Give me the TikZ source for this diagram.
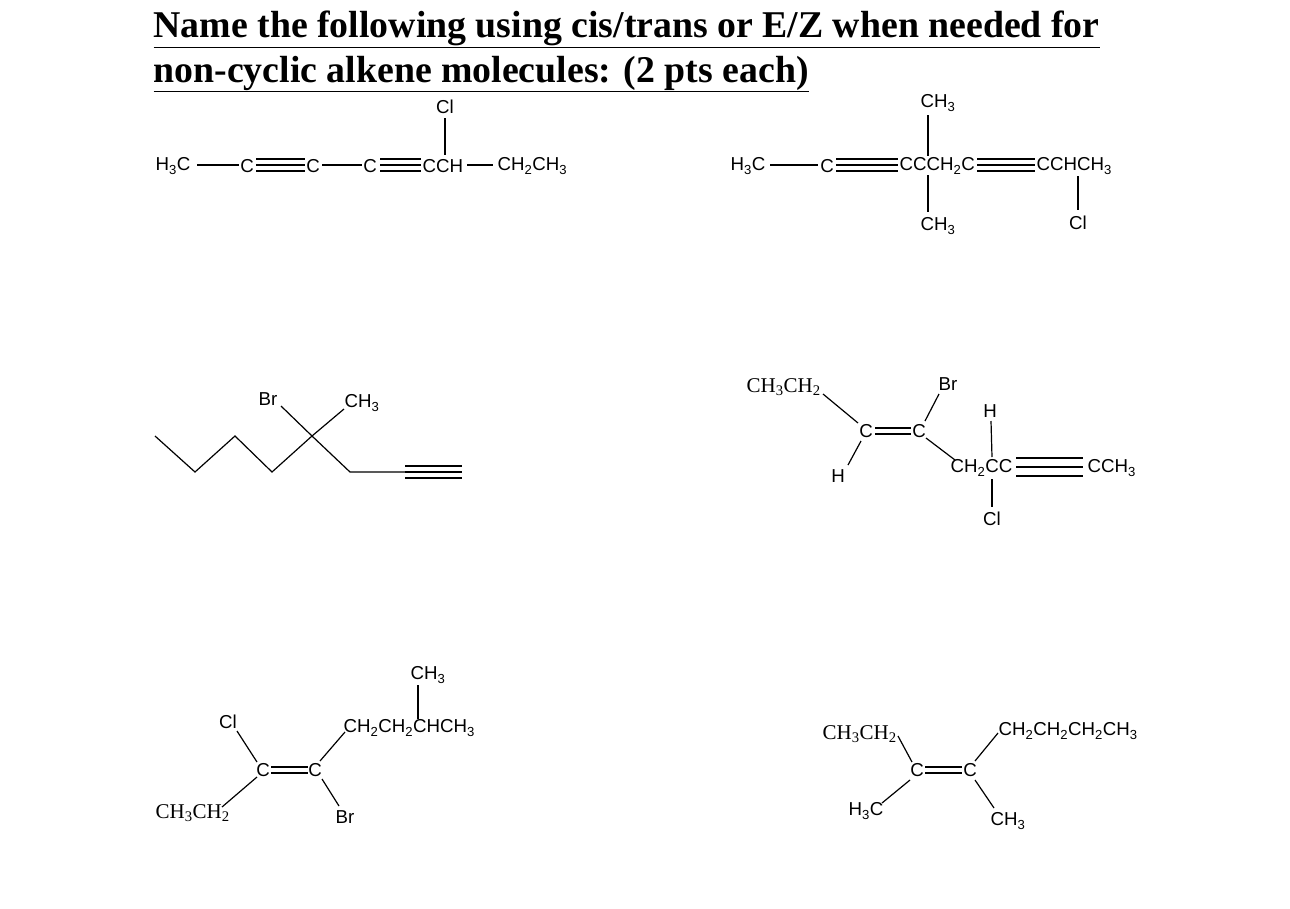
\documentclass[tikz,border=0pt]{standalone}
\usepackage{fontspec}
\setmainfont{Liberation Sans}
\newfontfamily\tnr{Liberation Serif}
\newcommand{\sbs}[1]{\textsubscript{#1}}
\begin{document}
\begin{tikzpicture}[x=1pt,y=-1pt,line width=1.2pt,
  lab/.style={inner sep=0pt,font=\fontsize{18.7}{19}\selectfont},
  ser/.style={inner sep=0pt,font=\fontsize{21}{21}\selectfont\tnr},
  ttl/.style={inner sep=0pt,anchor=base west,font=\fontsize{37.8}{38}\selectfont\tnr\bfseries}]
\useasboundingbox (0,0) rectangle (1290,908);
% title
\node[ttl] (t1) at (153,37) {\underline{Name the following using cis/trans or E/Z when needed for}};
\node[ttl] (t2) at (153,82) {\underline{non-cyclic alkene molecules: (2 pts each)}};
% molecule 1
\node[lab,anchor=west] (a1) at (155,166) {H\sbs{3}C};
\node[lab] (a2) at (247,166) {C};
\node[lab] (a3) at (313,166) {C};
\node[lab] (a4) at (370,166) {C};
\node[lab,anchor=west] (a5) at (422,166) {CCH};
\node[lab,anchor=west] (a6) at (497,166) {CH\sbs{2}CH\sbs{3}};
\node[lab] (a7) at (445,107) {Cl};
\draw (197,165) -- (239,165);
\draw (256,159) -- (305,159) (256,165) -- (305,165) (256,171) -- (305,171);
\draw (322,165) -- (362,165);
\draw (380,159) -- (421,159) (380,165) -- (421,165) (380,171) -- (421,171);
\draw (467,165) -- (493,165);
\draw (445,118) -- (445,155);
% molecule 2
\node[lab,anchor=west] (b1) at (730,166) {H\sbs{3}C};
\node[lab] (b2) at (827,166) {C};
\node[lab,anchor=west] (b3) at (899,166) {CCCH\sbs{2}C};
\node[lab,anchor=west] (b4) at (1036,166) {CCHCH\sbs{3}};
\node[lab] (b5) at (938,103) {CH\sbs{3}};
\node[lab] (b6) at (938,226) {CH\sbs{3}};
\node[lab] (b7) at (1078,223) {Cl};
\draw (770,165) -- (818,165);
\draw (836,159) -- (898,159) (836,165) -- (898,165) (836,171) -- (898,171);
\draw (977,159) -- (1035,159) (977,165) -- (1035,165) (977,171) -- (1035,171);
\draw (928,115) -- (928,156);
\draw (928,175) -- (928,212);
\draw (1078,176) -- (1078,210);
% molecule 3
\node[lab] (c1) at (268,399) {Br};
\node[lab] (c2) at (362,403) {CH\sbs{3}};
\draw (155,436) -- (195,472) -- (235,436) -- (272,472) -- (312,436) -- (350,472) -- (405,472);
\draw (405,466) -- (462,466) (405,472) -- (462,472) (405,478) -- (462,478);
\draw (281,406) -- (312,436) -- (344,409);
% molecule 4
\node[ser,anchor=west] (d1) at (746,387) {CH\sbs{3}CH\sbs{2}};
\node[lab] (d2) at (866,431) {C};
\node[lab] (d3) at (919,431) {C};
\node[lab] (d4) at (948,384) {Br};
\node[lab] (d5) at (838,476) {H};
\node[lab] (d6) at (990,411) {H};
\node[lab,anchor=west] (d7) at (950,468) {CH\sbs{2}CC};
\node[lab,anchor=west] (d8) at (1087,468) {CCH\sbs{3}};
\node[lab] (d9) at (992,519) {Cl};
\draw (823,394) -- (858,423);
\draw (875,428) -- (911,428) (875,434) -- (911,434);
\draw (939,394) -- (925,421);
\draw (848,465) -- (861,441);
\draw (926,438) -- (955,460);
\draw (991,421) -- (992,457);
\draw (992,479) -- (992,507);
\draw (1016,458) -- (1083,458) (1016,467) -- (1083,467) (1016,476) -- (1083,476);
% molecule 5
\node[lab] (e1) at (228,722) {Cl};
\node[lab] (e2) at (263,770) {C};
\node[lab] (e3) at (315,770) {C};
\node[lab,anchor=west] (e4) at (343,728) {CH\sbs{2}CH\sbs{2}CHCH\sbs{3}};
\node[lab] (e5) at (428,675) {CH\sbs{3}};
\node[ser,anchor=west] (e6) at (155,813) {CH\sbs{3}CH\sbs{2}};
\node[lab] (e7) at (345,817) {Br};
\draw (237,731) -- (257,762);
\draw (271,767) -- (308,767) (271,773) -- (308,773);
\draw (320,761) -- (345,732);
\draw (418,685) -- (418,719);
\draw (222,807) -- (257,777);
\draw (322,779) -- (339,806);
% molecule 6
\node[ser,anchor=west] (f1) at (822,734) {CH\sbs{3}CH\sbs{2}};
\node[lab] (f2) at (917,770) {C};
\node[lab] (f3) at (970,770) {C};
\node[lab,anchor=west] (f4) at (998,731) {CH\sbs{2}CH\sbs{2}CH\sbs{2}CH\sbs{3}};
\node[lab] (f5) at (866,811) {H\sbs{3}C};
\node[lab] (f6) at (1008,821) {CH\sbs{3}};
\draw (898,736) -- (912,762);
\draw (925,767) -- (962,767) (925,773) -- (962,773);
\draw (975,761) -- (998,733);
\draw (882,803) -- (910,780);
\draw (975,780) -- (994,808);
\end{tikzpicture}
\end{document}
